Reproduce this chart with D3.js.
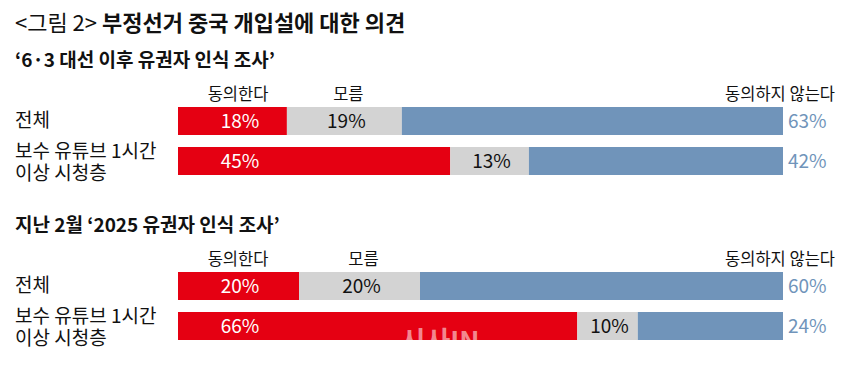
<!DOCTYPE html>
<html>
<head>
<meta charset="utf-8">
<script src="https://cdn.jsdelivr.net/npm/d3@7"></script>
<style>
  body { margin: 0; background: #fff; }
  svg { font-family: "Noto Sans CJK KR", "Noto Sans", sans-serif; }
</style>
</head>
<body>
<div id="chart"></div>
<script>
// survey values (percent)
const categories = ["동의한다", "모름", "동의하지 않는다"];
const rowLabels = [["전체"], ["보수 유튜브 1시간", "이상 시청층"]];
const groupTitles = ["‘6·3 대선 이후 유권자 인식 조사’", "지난 2월 ‘2025 유권자 인식 조사’"];
const agree = [[18, 45], [20, 66]];
const unknown = [[19, 13], [20, 10]];
const disagree = [[63, 42], [60, 24]];

const width = 860, height = 367;
const colors = ["#e50012", "#d3d3d3", "#7094ba"];

const svg = d3.select("#chart").append("svg")
    .attr("width", width)
    .attr("height", height);

// main title
const title = svg.append("text")
    .attr("x", 15).attr("y", 31)
    .attr("font-size", 22)
    .attr("fill", "#111");
title.append("tspan").attr("font-weight", 400).text("<그림 2> ");
title.append("tspan").attr("font-weight", 700).text("부정선거 중국 개입설에 대한 의견");

const x = d3.scaleLinear().domain([0, 100]).range([178, 783]);

// vertical offset of each group
const groupTop = [0, 165];

groupTitles.forEach((g, gi) => {
    const top = groupTop[gi];
    const gr = svg.append("g").attr("transform", `translate(0,${top})`);

    gr.append("text")
        .attr("x", 15).attr("y", 67)
        .attr("font-size", 19)
        .attr("font-weight", 700)
        .attr("fill", "#111")
        .text(g);

    const rows = [0, 1].map(ri => {
        const a = agree[gi][ri], u = unknown[gi][ri], d = disagree[gi][ri];
        return [
            {x0: 0, x1: a, v: a},
            {x0: a, x1: a + u, v: u},
            {x0: a + u, x1: a + u + d, v: d}
        ];
    });

    const y = d3.scaleBand().domain([0, 1]).range([107, 175]).paddingInner(0.3);

    // headers
    const hy = 100;
    gr.append("text").attr("x", 238).attr("y", hy).attr("text-anchor", "middle")
        .attr("font-size", 16.5).attr("fill", "#111").text(categories[0]);
    gr.append("text").attr("x", (x(rows[0][1].x0) + x(rows[0][1].x1)) / 2 + 4).attr("y", hy)
        .attr("text-anchor", "middle")
        .attr("font-size", 16.5).attr("fill", "#111").text(categories[1]);
    gr.append("text").attr("x", 835).attr("y", hy).attr("text-anchor", "end")
        .attr("font-size", 16.5).attr("fill", "#111").text(categories[2]);

    rows.forEach((segs, ri) => {
        const rg = gr.append("g");
        const yy = y(ri), bh = y.bandwidth();

        rg.selectAll("rect")
            .data(segs)
            .join("rect")
            .attr("x", s => x(s.x0))
            .attr("y", yy)
            .attr("width", s => x(s.x1) - x(s.x0))
            .attr("height", bh)
            .attr("fill", (s, i) => colors[i]);

        // value labels
        rg.append("text")
            .attr("x", 240).attr("y", yy + bh / 2 + 7)
            .attr("text-anchor", "middle")
            .attr("font-size", 19).attr("fill", "#fff")
            .text(segs[0].v + "%");
        rg.append("text")
            .attr("x", (x(segs[1].x0) + x(segs[1].x1)) / 2 + 2).attr("y", yy + bh / 2 + 7)
            .attr("text-anchor", "middle")
            .attr("font-size", 19).attr("fill", "#111")
            .text(segs[1].v + "%");
        rg.append("text")
            .attr("x", x(100) + 5).attr("y", yy + bh / 2 + 7)
            .attr("font-size", 19).attr("fill", colors[2])
            .text(segs[2].v + "%");

        // row label
        const lines = rowLabels[ri];
        const lt = rg.append("text")
            .attr("font-size", 19).attr("fill", "#111");
        lines.forEach((l, li) => {
            lt.append("tspan")
                .attr("x", 15)
                .attr("y", lines.length === 1 ? yy + bh / 2 + 6 : yy + 11 + li * 22)
                .text(l);
        });
    });
});

// watermark
svg.append("text")
    .attr("x", 440).attr("y", 351)
    .attr("text-anchor", "middle")
    .attr("font-size", 27)
    .attr("font-weight", 700)
    .attr("fill", "#fff")
    .attr("fill-opacity", 0.55)
    .text("시사IN");
</script>
</body>
</html>
